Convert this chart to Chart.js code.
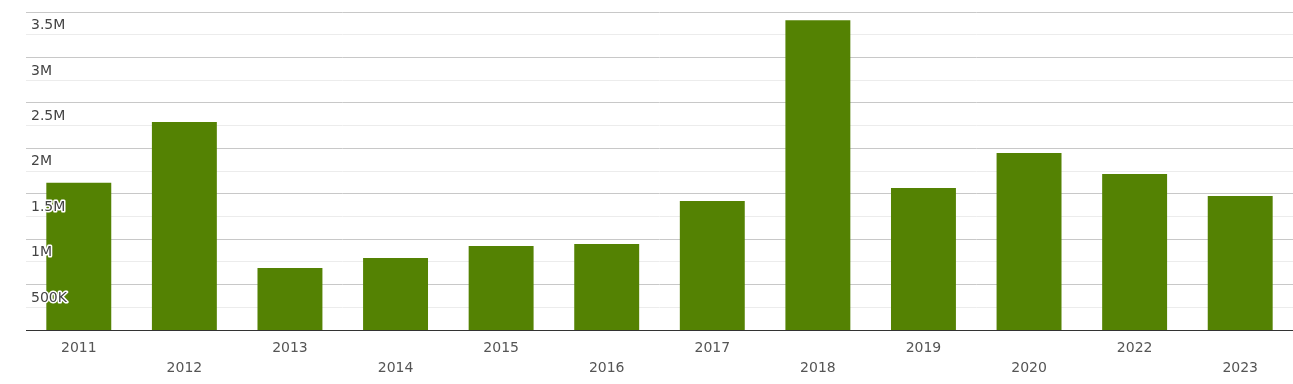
<!DOCTYPE html>
<html>
<head>
<meta charset="utf-8">
<script src="https://cdn.jsdelivr.net/npm/chart.js@4"></script>
<style>
  html, body { margin: 0; padding: 0; background: #fff; }
  #wrap { width: 1293px; height: 384px; }
</style>
</head>
<body>
<div id="wrap"><canvas id="barChart"></canvas></div>
<script>
const years = ['2011', '2012', '2013', '2014', '2015', '2016', '2017', '2018', '2019', '2020', '2022', '2023'];
const values = [1620000, 2290000, 682000, 792000, 925000, 946000, 1420000, 3410000, 1563000, 1948000, 1717000, 1475000];
const yTicks = [500000, 1000000, 1500000, 2000000, 2500000, 3000000, 3500000];
const yTickLabels = ['500K', '1M', '1.5M', '2M', '2.5M', '3M', '3.5M'];

// y labels sit inside the plot, just under their gridline, with a white halo
const yLabelPlugin = {
    id: 'yLabels',
    afterDatasetsDraw(chart) {
        const ctx = chart.ctx;
        const y = chart.scales.y;
        ctx.save();
        ctx.font = '14px "DejaVu Sans"';
        ctx.textAlign = 'left';
        ctx.textBaseline = 'middle';
        ctx.lineJoin = 'round';
        yTicks.forEach((v, i) => {
            const py = y.getPixelForValue(v) + 13.5;
            ctx.strokeStyle = '#fff';
            ctx.lineWidth = 3;
            ctx.strokeText(yTickLabels[i], chart.chartArea.left + 5, py);
            ctx.fillStyle = '#444';
            ctx.fillText(yTickLabels[i], chart.chartArea.left + 5, py);
        });
        ctx.restore();
    }
};

document.addEventListener('DOMContentLoaded', function() {
    const ctx = document.getElementById('barChart').getContext('2d');
    new Chart(ctx, {
        type: 'bar',
        data: {
            labels: years,
            datasets: [{
                data: values,
                backgroundColor: '#548203',
                categoryPercentage: 1,
                barPercentage: 0.615
            }]
        },
        options: {
            responsive: true,
            maintainAspectRatio: false,
            animation: false,
            layout: { padding: { left: 26, top: 12, right: 0, bottom: 6 } },
            plugins: { legend: { display: false }, tooltip: { enabled: false } },
            scales: {
                x: {
                    grid: { display: false, drawTicks: false },
                    border: { display: true, color: '#333', width: 1 },
                    afterFit: scale => { scale.height = 48; },
                    ticks: {
                        autoSkip: false,
                        maxRotation: 0,
                        padding: 8,
                        color: '#555',
                        font: { family: 'DejaVu Sans', size: 14, lineHeight: 20 / 14 },
                        callback: function(value, index) {
                            const lbl = this.getLabelForValue(value);
                            return index % 2 === 0 ? [lbl] : ['', lbl];
                        }
                    }
                },
                y: {
                    min: 0,
                    max: 3500000,
                    ticks: { display: false, stepSize: 250000 },
                    border: { display: false },
                    grid: {
                        drawTicks: false,
                        color: c => (c.tick.value % 500000 === 0 ? '#c8c8c8' : '#ececec'),
                        lineWidth: c => (c.tick.value === 0 ? 0 : 1)
                    }
                }
            }
        },
        plugins: [yLabelPlugin]
    });
});
</script>
</body>
</html>
